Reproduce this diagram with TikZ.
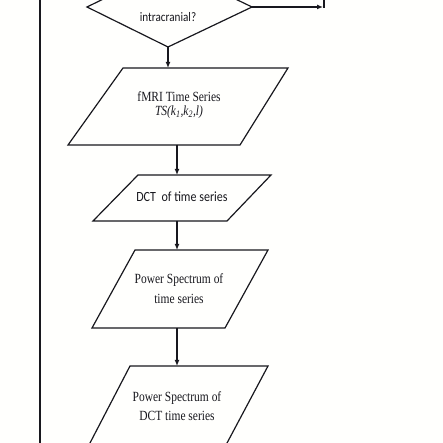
\documentclass[tikz,border=0pt]{standalone}
\usepackage{fontspec}
\usetikzlibrary{arrows.meta}
\newfontfamily\refserif[FakeStretch=0.82]{Liberation Serif}
\newfontfamily\refsans[FakeStretch=0.86]{Carlito}
\definecolor{inkc}{RGB}{24,24,30}
\definecolor{paperc}{RGB}{255,255,253}
\begin{document}
\begin{tikzpicture}[x=1pt,y=1pt,line width=1.2pt,color=inkc,
  pgram/.style={draw=inkc,line join=miter},
  conn/.style={draw=inkc,-{Latex[length=6pt,width=5pt]}},
  lbl/.style={inner sep=0pt,align=center,text=inkc}]
\useasboundingbox (0,0) rectangle (443,443);
\fill[paperc] (0,0) rectangle (443,443);
\clip (0,0) rectangle (443,443);
% left boundary line
\coordinate (lt) at (40,450);
\coordinate (lb) at (40,-7);
\draw[inkc] (lt) -- (lb);
% decision diamond
\coordinate (dL) at (87,436);
\coordinate (dT) at (169,476);
\coordinate (dR) at (252,436);
\coordinate (dB) at (168,396);
\draw[pgram] (dL) -- (dT) -- (dR) -- (dB) -- cycle;
\node[lbl,font=\refsans\fontsize{13}{15}\selectfont] (intr) at (168,426) {intracranial?};
% right branch
\coordinate (rbox) at (323,436);
\coordinate (rt) at (324,450);
\coordinate (rb) at (324,435);
\draw[inkc] (rt) -- (rb);
\draw[conn] (dR) -- (rbox);
% parallelogram 1
\draw[pgram] (123,375) -- (288,375) -- (240,298) -- (68,298) -- cycle;
\coordinate (p1t) at (168,375);
\coordinate (p1b) at (177,298);
\node[lbl,font=\refserif\fontsize{14}{14.5}\selectfont] (t1) at (179,338)
  {fMRI Time Series\\ \textit{TS(k\textsubscript{1},k\textsubscript{2},l)}};
% parallelogram 2
\draw[pgram] (138,268) -- (271,268) -- (227,222) -- (93,222) -- cycle;
\coordinate (p2t) at (177,268);
\coordinate (p2b) at (177,222);
\node[lbl,font=\refsans\fontsize{14}{16}\selectfont] (t2) at (182,246) {DCT\ \ of time series};
% parallelogram 3
\draw[pgram] (135,193) -- (268,193) -- (225,115) -- (92,115) -- cycle;
\coordinate (p3t) at (177,193);
\coordinate (p3b) at (177,115);
\node[lbl,font=\refserif\fontsize{14}{20}\selectfont] (t3) at (179,154) {Power Spectrum of\\ time series};
% parallelogram 4 (runs off the bottom edge)
\draw[pgram] (84.8,-10) -- (130,77) -- (268,77) -- (221.7,-10);
\coordinate (p4t) at (177,77);
\node[lbl,font=\refserif\fontsize{14}{18.5}\selectfont] (t4) at (177,37) {Power Spectrum of\\ DCT time series};
% connectors
\draw[conn] (dB) -- (p1t);
\draw[conn] (p1b) -- (p2t);
\draw[conn] (p2b) -- (p3t);
\draw[conn] (p3b) -- (p4t);
\end{tikzpicture}
\end{document}
